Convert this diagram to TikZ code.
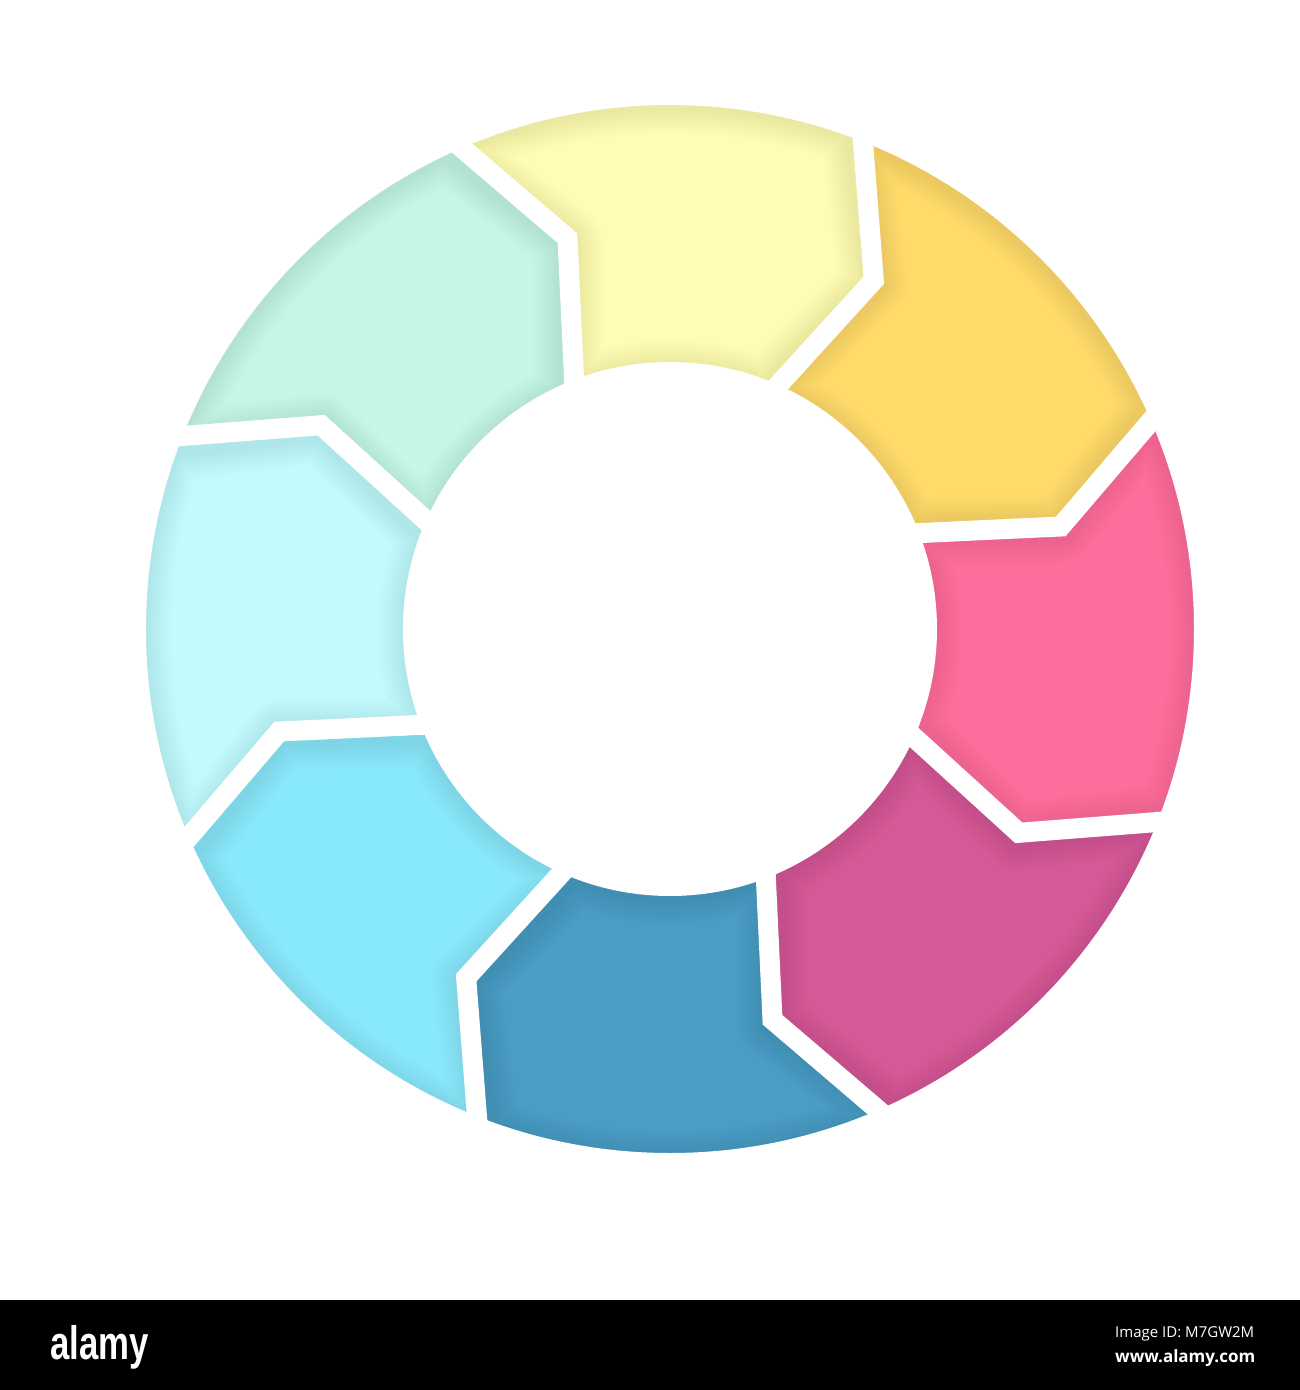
\documentclass[tikz,border=0pt]{standalone}
\usepackage{fontspec}
\usepackage{graphicx}
\newfontfamily\logofont{Liberation Sans}
\newfontfamily\idfont{Open Sans}
\definecolor{cY}{HTML}{FFFCB4}
\definecolor{cO}{HTML}{FFDC6A}
\definecolor{cP}{HTML}{FF6D9C}
\definecolor{cM}{HTML}{D65896}
\definecolor{cB}{HTML}{4A9DC6}
\definecolor{cC}{HTML}{88E9FB}
\definecolor{cL}{HTML}{C3FAFD}
\definecolor{cG}{HTML}{C6F6E5}
\begin{document}
\begin{tikzpicture}[x=1pt,y=1pt,
  segpath/.style={insert path={(\a:534) arc[start angle=\a, end angle=\b, radius=534] -- (\bt:404) -- (\bi:257) arc[start angle=\bi, end angle=\ai, radius=257] -- (\at:404) -- cycle}},
  gapline/.style={white, line width=20pt, line join=miter},
  band/.style={white, line width=20pt},
  bartext/.style={anchor=base west, inner sep=0pt, text=white}]
\useasboundingbox (-670,-761) rectangle (630,629);
\fill[white] (-670,-761) rectangle (630,629);
% segments
\foreach \k/\col in {0/cY,1/cO,2/cP,3/cM,4/cB,5/cC,6/cL,7/cG}{
  \pgfmathsetmacro\a{114.7-45*\k}
  \pgfmathsetmacro\b{\a-45}
  \pgfmathsetmacro\bt{\a-55}
  \pgfmathsetmacro\bi{\a-46.5}
  \pgfmathsetmacro\ai{\a-1.5}
  \pgfmathsetmacro\at{\a-10}
  \begin{scope}
    \clip[segpath];
    \fill[\col] (-600,-600) rectangle (600,600);
    \foreach \w in {24,29,...,69}{
      \draw[\col!55!black, opacity=0.016, line width=\w pt, line join=round, yshift=-3pt, segpath];
    }
  \end{scope}
}
% white gaps
\foreach \k in {0,...,7}{
  \pgfmathsetmacro\a{114.7-45*\k}
  \pgfmathsetmacro\at{\a-10}
  \pgfmathsetmacro\ai{\a-1.5}
  \draw[gapline] (\a:550) -- (\at:404) -- (\ai:240);
}
\draw[band] (0,0) circle[radius=534];
\draw[band] (0,0) circle[radius=257];
% bottom bar
\fill[black] (-670,-761) rectangle (630,-671);
\node[bartext] (logo) at (-620,-730) {\scalebox{0.74}[1]{\logofont\bfseries\fontsize{47}{47}\selectfont alamy}};
\node[bartext] (imgid) at (445,-708) {\idfont\fontsize{15}{15}\selectfont Image ID: M7GW2M};
\node[bartext] (url) at (445,-733) {\idfont\bfseries\fontsize{17}{17}\selectfont www.alamy.com};
\end{tikzpicture}
\end{document}
